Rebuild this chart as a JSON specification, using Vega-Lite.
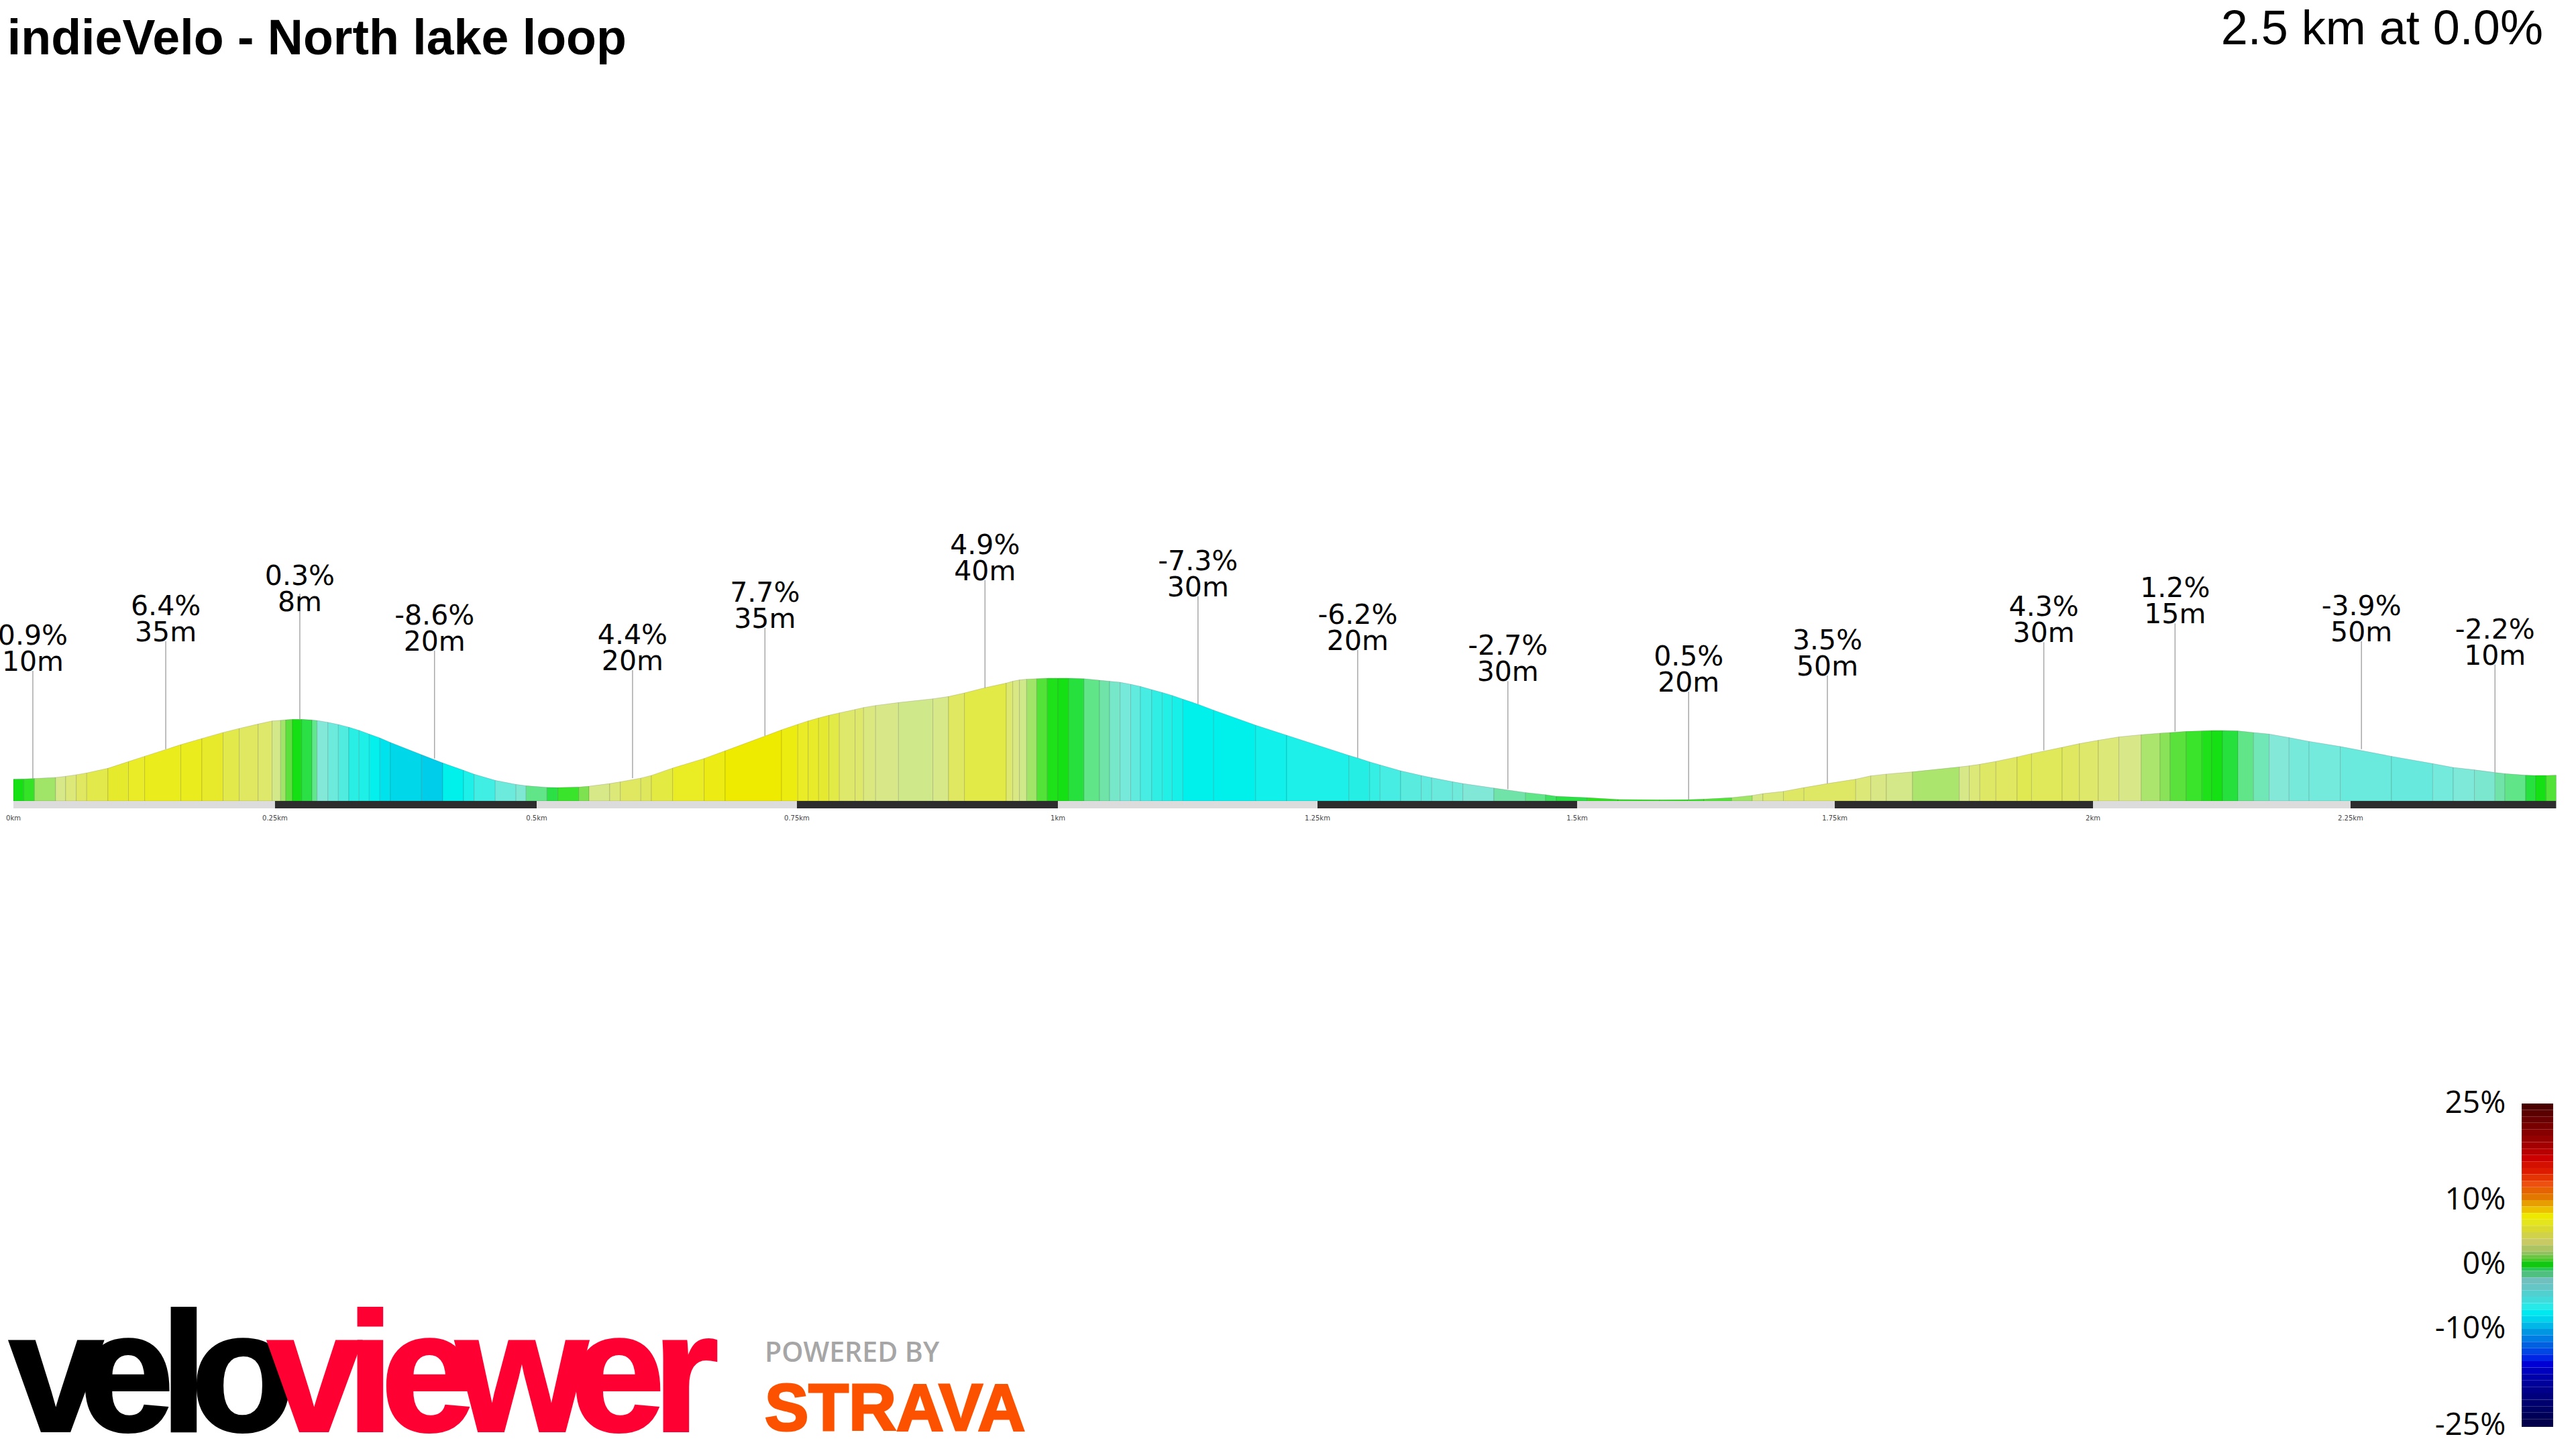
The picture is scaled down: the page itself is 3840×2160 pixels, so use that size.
{
  "$schema": "https://vega.github.io/schema/vega-lite/v6.json",
  "description": "indieVelo North lake loop elevation profile, one filled band per gradient segment.",
  "autosize": {"type": "none"},
  "width": 3840,
  "height": 2160,
  "padding": 0,
  "background": "#ffffff",
  "config": {"view": {"stroke": null}},
  "datasets": {
    "bands": [
      {"band":1,"dist":[0,10.1],"elev":[3.25,3.28],"grade":0},
      {"band":2,"dist":[10.1,20.3],"elev":[3.28,3.35],"grade":0.4},
      {"band":3,"dist":[20.3,40.6],"elev":[3.35,3.51],"grade":1.5},
      {"band":4,"dist":[40.6,50.3],"elev":[3.51,3.68],"grade":2.4},
      {"band":5,"dist":[50.3,60.5],"elev":[3.68,3.91],"grade":3},
      {"band":6,"dist":[60.5,70.6],"elev":[3.91,4.18],"grade":3.5},
      {"band":7,"dist":[70.6,91],"elev":[4.18,4.87],"grade":4.2},
      {"band":8,"dist":[91,110.8],"elev":[4.87,5.87],"grade":5},
      {"band":9,"dist":[110.8,126.4],"elev":[5.87,6.66],"grade":5.8},
      {"band":10,"dist":[126.4,161.2],"elev":[6.66,8.39],"grade":6.3},
      {"band":11,"dist":[161.2,181.5],"elev":[8.39,9.31],"grade":6.2},
      {"band":12,"dist":[181.5,201.9],"elev":[9.31,10.21],"grade":5.2},
      {"band":13,"dist":[201.9,217.4],"elev":[10.21,10.81],"grade":4.2},
      {"band":14,"dist":[217.4,235.6],"elev":[10.81,11.47],"grade":3.5},
      {"band":15,"dist":[235.6,249.1],"elev":[11.47,11.93],"grade":3.3},
      {"band":16,"dist":[249.1,257.3],"elev":[11.93,12.03],"grade":2.2},
      {"band":17,"dist":[257.3,262.3],"elev":[12.03,12.1],"grade":1.5},
      {"band":18,"dist":[262.3,268.7],"elev":[12.1,12.17],"grade":0.9},
      {"band":19,"dist":[268.7,277.6],"elev":[12.17,12.17],"grade":0},
      {"band":20,"dist":[277.6,287.5],"elev":[12.17,12.07],"grade":-0.5},
      {"band":21,"dist":[287.5,292.4],"elev":[12.07,12],"grade":-1.4},
      {"band":22,"dist":[292.4,302.8],"elev":[12,11.73],"grade":-2.8},
      {"band":23,"dist":[302.8,312.9],"elev":[11.73,11.4],"grade":-3.6},
      {"band":24,"dist":[312.9,323],"elev":[11.4,11],"grade":-4.5},
      {"band":25,"dist":[323,332.9],"elev":[11,10.53],"grade":-5.6},
      {"band":26,"dist":[332.9,342.6],"elev":[10.53,9.97],"grade":-6.2},
      {"band":27,"dist":[342.6,352.9],"elev":[9.97,9.4],"grade":-7.2},
      {"band":28,"dist":[352.9,363],"elev":[9.4,8.73],"grade":-7.8},
      {"band":29,"dist":[363,393],"elev":[8.73,6.9],"grade":-8.3},
      {"band":30,"dist":[393,413.4],"elev":[6.9,5.67],"grade":-8.8},
      {"band":31,"dist":[413.4,433.5],"elev":[5.67,4.57],"grade":-7.3},
      {"band":32,"dist":[433.5,443.6],"elev":[4.57,4],"grade":-6.3},
      {"band":33,"dist":[443.6,464],"elev":[4,3.07],"grade":-5},
      {"band":34,"dist":[464,484],"elev":[3.07,2.47],"grade":-3.6},
      {"band":35,"dist":[484,493.7],"elev":[2.47,2.27],"grade":-2.7},
      {"band":36,"dist":[493.7,513.8],"elev":[2.27,2.03],"grade":-1.3},
      {"band":37,"dist":[513.8,524.3],"elev":[2.03,2],"grade":-0.5},
      {"band":38,"dist":[524.3,544.4],"elev":[2,2.07],"grade":0.5},
      {"band":39,"dist":[544.4,554.3],"elev":[2.07,2.2],"grade":1.2},
      {"band":40,"dist":[554.3,574.2],"elev":[2.2,2.59],"grade":2.4},
      {"band":42,"dist":[574.2,584.4],"elev":[2.59,2.85],"grade":3},
      {"band":43,"dist":[584.4,604.2],"elev":[2.85,3.41],"grade":3.5},
      {"band":44,"dist":[604.2,614.4],"elev":[3.41,3.81],"grade":3.6},
      {"band":45,"dist":[614.4,634.8],"elev":[3.81,4.9],"grade":4.5},
      {"band":46,"dist":[634.8,665.2],"elev":[4.9,6.33],"grade":6},
      {"band":47,"dist":[665.2,685.4],"elev":[6.33,7.47],"grade":6.5},
      {"band":48,"dist":[685.4,704.6,723.7,739.7],"elev":[7.47,8.57,9.67,10.6],"grade":7.7},
      {"band":49,"dist":[739.7,755.4],"elev":[10.6,11.43],"grade":6.7},
      {"band":50,"dist":[755.4,765.3],"elev":[11.43,11.93],"grade":5.8},
      {"band":51,"dist":[765.3,775.4],"elev":[11.93,12.37],"grade":5.3},
      {"band":52,"dist":[775.4,785.3],"elev":[12.37,12.77],"grade":4.9},
      {"band":53,"dist":[785.3,795.4],"elev":[12.77,13.13],"grade":4.3},
      {"band":54,"dist":[795.4,810.5],"elev":[13.13,13.63],"grade":3.3},
      {"band":55,"dist":[810.5,818.7],"elev":[13.63,13.93],"grade":3.3},
      {"band":56,"dist":[818.7,830.3],"elev":[13.93,14.23],"grade":2.8},
      {"band":57,"dist":[830.3,852.3],"elev":[14.23,14.67],"grade":2.5},
      {"band":58,"dist":[852.3,885.4],"elev":[14.67,15.23],"grade":2},
      {"band":59,"dist":[885.4,900.5],"elev":[15.23,15.57],"grade":2.4},
      {"band":60,"dist":[900.5,915.8],"elev":[15.57,16.1],"grade":3.5},
      {"band":61,"dist":[915.8,936,956.1],"elev":[16.1,16.9,17.57],"grade":4.3},
      {"band":62,"dist":[956.1,962.3],"elev":[17.57,17.85],"grade":3.2},
      {"band":63,"dist":[962.3,968.8],"elev":[17.85,18.05],"grade":2.7},
      {"band":64,"dist":[968.8,975.7],"elev":[18.05,18.16],"grade":2},
      {"band":65,"dist":[975.7,985.4],"elev":[18.16,18.23],"grade":1.5},
      {"band":66,"dist":[985.4,995.6],"elev":[18.23,18.3],"grade":0.8},
      {"band":67,"dist":[995.6,1005.7],"elev":[18.3,18.3],"grade":0.1},
      {"band":68,"dist":[1005.7,1016.4],"elev":[18.3,18.3],"grade":0},
      {"band":69,"dist":[1016.4,1030.9],"elev":[18.3,18.23],"grade":-0.4},
      {"band":70,"dist":[1030.9,1045.9],"elev":[18.23,18],"grade":-1.3},
      {"band":71,"dist":[1045.9,1055.6],"elev":[18,17.85],"grade":-2},
      {"band":72,"dist":[1055.6,1065.7],"elev":[17.85,17.7],"grade":-2.5},
      {"band":73,"dist":[1065.7,1075.9],"elev":[17.7,17.4],"grade":-3.3},
      {"band":74,"dist":[1075.9,1085.3],"elev":[17.4,17.07],"grade":-4},
      {"band":75,"dist":[1085.3,1096.1],"elev":[17.07,16.6],"grade":-4.8},
      {"band":76,"dist":[1096.1,1106.2],"elev":[16.6,16.17],"grade":-5.4},
      {"band":77,"dist":[1106.2,1115.9],"elev":[16.17,15.73],"grade":-6},
      {"band":78,"dist":[1115.9,1126.2],"elev":[15.73,15.17],"grade":-6.6},
      {"band":79,"dist":[1126.2,1140.6,1155.9],"elev":[15.17,14.43,13.53],"grade":-7.3},
      {"band":80,"dist":[1155.9,1196.2],"elev":[13.53,11.3],"grade":-7.3},
      {"band":81,"dist":[1196.2,1226.1],"elev":[11.3,9.8],"grade":-6.8},
      {"band":82,"dist":[1226.1,1286],"elev":[9.8,6.8],"grade":-6.3},
      {"band":83,"dist":[1286,1295.2,1306],"elev":[6.8,6.37,5.83],"grade":-5.8},
      {"band":84,"dist":[1306,1316.1],"elev":[5.83,5.37],"grade":-5.3},
      {"band":85,"dist":[1316.1,1335.9],"elev":[5.37,4.5],"grade":-4.8},
      {"band":86,"dist":[1335.9,1355.7],"elev":[4.5,3.8],"grade":-4.2},
      {"band":87,"dist":[1355.7,1365.8],"elev":[3.8,3.47],"grade":-4},
      {"band":88,"dist":[1365.8,1385.9],"elev":[3.47,2.87],"grade":-3.7},
      {"band":89,"dist":[1385.9,1395.8],"elev":[2.87,2.6],"grade":-3.5},
      {"band":90,"dist":[1395.8,1425.7],"elev":[2.6,1.92],"grade":-2.9},
      {"band":91,"dist":[1425.7,1456.2],"elev":[1.92,1.26],"grade":-2},
      {"band":92,"dist":[1456.2,1475.5],"elev":[1.26,0.93],"grade":-1.3},
      {"band":93,"dist":[1475.5,1485.7],"elev":[0.93,0.7],"grade":-0.8},
      {"band":94,"dist":[1485.7,1515.7],"elev":[0.7,0.5],"grade":-0.5},
      {"band":95,"dist":[1515.7,1545.2],"elev":[0.5,0.23],"grade":0.3},
      {"band":96,"dist":[1545.2,1585.4],"elev":[0.23,0.17],"grade":0.4},
      {"band":97,"dist":[1585.4,1612.2],"elev":[0.17,0.2],"grade":0.4},
      {"band":98,"dist":[1612.2,1627.9],"elev":[0.2,0.27],"grade":0.5},
      {"band":99,"dist":[1627.9,1654.7],"elev":[0.27,0.5],"grade":0.8},
      {"band":100,"dist":[1654.7,1674.5],"elev":[0.5,0.83],"grade":1.5},
      {"band":101,"dist":[1674.5,1684.7],"elev":[0.83,1.09],"grade":2.4},
      {"band":102,"dist":[1684.7,1704.5],"elev":[1.09,1.43],"grade":3},
      {"band":103,"dist":[1704.5,1724.3],"elev":[1.43,1.99],"grade":3.4},
      {"band":104,"dist":[1724.3,1746.8,1774.1],"elev":[1.99,2.59,3.25],"grade":3.4},
      {"band":105,"dist":[1774.1,1788.6],"elev":[3.25,3.75],"grade":3},
      {"band":106,"dist":[1788.6,1803.6],"elev":[3.75,4.01],"grade":2.6},
      {"band":107,"dist":[1803.6,1828.8],"elev":[4.01,4.34],"grade":2.3},
      {"band":108,"dist":[1828.8,1873.8],"elev":[4.34,5.07],"grade":1.6},
      {"band":109,"dist":[1873.8,1883.4],"elev":[5.07,5.24],"grade":2.4},
      {"band":110,"dist":[1883.4,1893.6],"elev":[5.24,5.47],"grade":3},
      {"band":111,"dist":[1893.6,1909.1],"elev":[5.47,5.9],"grade":3.4},
      {"band":112,"dist":[1909.1,1929.5],"elev":[5.9,6.56],"grade":3.5},
      {"band":113,"dist":[1929.5,1943.4],"elev":[6.56,7.06],"grade":4},
      {"band":114,"dist":[1943.4,1972.9],"elev":[7.06,7.99],"grade":3.7},
      {"band":115,"dist":[1972.9,1989.5],"elev":[7.99,8.55],"grade":3.5},
      {"band":116,"dist":[1989.5,2007.7],"elev":[8.55,9.05],"grade":3.3},
      {"band":117,"dist":[2007.7,2027.5],"elev":[9.05,9.55],"grade":3},
      {"band":118,"dist":[2027.5,2049],"elev":[9.55,9.88],"grade":2.5},
      {"band":119,"dist":[2049,2067.2],"elev":[9.88,10.11],"grade":1.6},
      {"band":120,"dist":[2067.2,2076.8],"elev":[10.11,10.21],"grade":1.3},
      {"band":121,"dist":[2076.8,2092.3],"elev":[10.21,10.37],"grade":0.9},
      {"band":122,"dist":[2092.3,2107.4],"elev":[10.37,10.44],"grade":0.5},
      {"band":123,"dist":[2107.4,2117],"elev":[10.44,10.51],"grade":0.1},
      {"band":124,"dist":[2117,2127.2],"elev":[10.51,10.51],"grade":0},
      {"band":125,"dist":[2127.2,2142.2],"elev":[10.51,10.44],"grade":-0.4},
      {"band":126,"dist":[2142.2,2157.2],"elev":[10.44,10.21],"grade":-1.3},
      {"band":127,"dist":[2157.2,2172.2],"elev":[10.21,9.98],"grade":-2.2},
      {"band":128,"dist":[2172.2,2191.4],"elev":[9.98,9.45],"grade":-2.8},
      {"band":129,"dist":[2191.4,2210.7],"elev":[9.45,8.88],"grade":-3.3},
      {"band":130,"dist":[2210.7,2240.7],"elev":[8.88,8.12],"grade":-3.4},
      {"band":131,"dist":[2240.7,2290],"elev":[8.12,6.66],"grade":-3.7},
      {"band":132,"dist":[2290,2329.7],"elev":[6.66,5.57],"grade":-3.8},
      {"band":133,"dist":[2329.7,2349.5],"elev":[5.57,5],"grade":-3.4},
      {"band":134,"dist":[2349.5,2369.9],"elev":[5,4.64],"grade":-3},
      {"band":135,"dist":[2369.9,2389.7],"elev":[4.64,4.24],"grade":-2.6},
      {"band":136,"dist":[2389.7,2399.3],"elev":[4.24,4.08],"grade":-2},
      {"band":137,"dist":[2399.3,2419.2],"elev":[4.08,3.84],"grade":-1.3},
      {"band":138,"dist":[2419.2,2428.8],"elev":[3.84,3.81],"grade":-0.4},
      {"band":139,"dist":[2428.8,2439],"elev":[3.81,3.81],"grade":0},
      {"band":140,"dist":[2439,2448.6],"elev":[3.81,3.84],"grade":0.8}
    ],
    "callouts": [
      {"dist":18.7,"elev":3.31,"top":19.41,"label_at":19.41,"pct":"0.9%","len":"10m"},
      {"dist":146.7,"elev":7.72,"top":23.82,"label_at":23.82,"pct":"6.4%","len":"35m"},
      {"dist":275.8,"elev":12.16,"top":30.9,"label_at":28.26,"pct":"0.3%","len":"8m"},
      {"dist":405.5,"elev":6.33,"top":22.43,"label_at":22.43,"pct":"-8.6%","len":"20m"},
      {"dist":596.2,"elev":3.41,"top":19.51,"label_at":19.51,"pct":"4.4%","len":"20m"},
      {"dist":723.7,"elev":9.71,"top":25.81,"label_at":25.81,"pct":"7.7%","len":"35m"},
      {"dist":935.6,"elev":16.84,"top":32.94,"label_at":32.94,"pct":"4.9%","len":"40m"},
      {"dist":1140.7,"elev":14.42,"top":30.52,"label_at":30.52,"pct":"-7.3%","len":"30m"},
      {"dist":1294.5,"elev":6.4,"top":22.5,"label_at":22.5,"pct":"-6.2%","len":"20m"},
      {"dist":1439.1,"elev":1.76,"top":17.86,"label_at":17.86,"pct":"-2.7%","len":"30m"},
      {"dist":1613.2,"elev":0.2,"top":16.3,"label_at":16.3,"pct":"0.5%","len":"20m"},
      {"dist":1746.8,"elev":2.59,"top":18.69,"label_at":18.69,"pct":"3.5%","len":"50m"},
      {"dist":1955.2,"elev":7.56,"top":23.66,"label_at":23.66,"pct":"4.3%","len":"30m"},
      {"dist":2081.6,"elev":10.37,"top":26.47,"label_at":26.47,"pct":"1.2%","len":"15m"},
      {"dist":2261.1,"elev":7.72,"top":23.82,"label_at":23.82,"pct":"-3.9%","len":"50m"},
      {"dist":2389.7,"elev":4.24,"top":20.34,"label_at":20.34,"pct":"-2.2%","len":"10m"}
    ],
    "scalebar": [
      {"from":0,"to":251.9,"shade":"light"},
      {"from":251.9,"to":503.9,"shade":"dark"},
      {"from":503.9,"to":754.5,"shade":"light"},
      {"from":754.5,"to":1005.8,"shade":"dark"},
      {"from":1005.8,"to":1255.8,"shade":"light"},
      {"from":1255.8,"to":1505.8,"shade":"dark"},
      {"from":1505.8,"to":1753.9,"shade":"light"},
      {"from":1753.9,"to":2002.6,"shade":"dark"},
      {"from":2002.6,"to":2250.6,"shade":"light"},
      {"from":2250.6,"to":2448.6,"shade":"dark"}
    ],
    "ticks": [
      {"dist":0,"label":"0km"},
      {"dist":251.9,"label":"0.25km"},
      {"dist":503.9,"label":"0.5km"},
      {"dist":754.5,"label":"0.75km"},
      {"dist":1005.8,"label":"1km"},
      {"dist":1255.8,"label":"1.25km"},
      {"dist":1505.8,"label":"1.5km"},
      {"dist":1753.9,"label":"1.75km"},
      {"dist":2002.6,"label":"2km"},
      {"dist":2250.6,"label":"2.25km"}
    ],
    "key": [
      {"left":2415.4,"right":2445.7,"hi":25,"lo":24,"g":24.5},{"left":2415.4,"right":2445.7,"hi":24,"lo":23,"g":23.5},{"left":2415.4,"right":2445.7,"hi":23,"lo":22,"g":22.5},{"left":2415.4,"right":2445.7,"hi":22,"lo":21,"g":21.5},{"left":2415.4,"right":2445.7,"hi":21,"lo":20,"g":20.5},
      {"left":2415.4,"right":2445.7,"hi":20,"lo":19,"g":19.5},{"left":2415.4,"right":2445.7,"hi":19,"lo":18,"g":18.5},{"left":2415.4,"right":2445.7,"hi":18,"lo":17,"g":17.5},{"left":2415.4,"right":2445.7,"hi":17,"lo":16,"g":16.5},{"left":2415.4,"right":2445.7,"hi":16,"lo":15,"g":15.5},
      {"left":2415.4,"right":2445.7,"hi":15,"lo":14,"g":14.5},{"left":2415.4,"right":2445.7,"hi":14,"lo":13,"g":13.5},{"left":2415.4,"right":2445.7,"hi":13,"lo":12,"g":12.5},{"left":2415.4,"right":2445.7,"hi":12,"lo":11,"g":11.5},{"left":2415.4,"right":2445.7,"hi":11,"lo":10,"g":10.5},
      {"left":2415.4,"right":2445.7,"hi":10,"lo":9,"g":9.5},{"left":2415.4,"right":2445.7,"hi":9,"lo":8,"g":8.5},{"left":2415.4,"right":2445.7,"hi":8,"lo":7,"g":7.5},{"left":2415.4,"right":2445.7,"hi":7,"lo":6,"g":6.5},{"left":2415.4,"right":2445.7,"hi":6,"lo":5,"g":5.5},
      {"left":2415.4,"right":2445.7,"hi":5,"lo":4,"g":4.5},{"left":2415.4,"right":2445.7,"hi":4,"lo":3,"g":3.5},{"left":2415.4,"right":2445.7,"hi":3,"lo":2,"g":2.5},{"left":2415.4,"right":2445.7,"hi":2,"lo":1.5,"g":1.8},{"left":2415.4,"right":2445.7,"hi":1.5,"lo":1,"g":1.2},
      {"left":2415.4,"right":2445.7,"hi":1,"lo":0.5,"g":0.8},{"left":2415.4,"right":2445.7,"hi":0.5,"lo":-0.5,"g":0},{"left":2415.4,"right":2445.7,"hi":-0.5,"lo":-1,"g":-0.8},{"left":2415.4,"right":2445.7,"hi":-1,"lo":-2,"g":-1.6},{"left":2415.4,"right":2445.7,"hi":-2,"lo":-3,"g":-2.8},
      {"left":2415.4,"right":2445.7,"hi":-3,"lo":-4,"g":-3.5},{"left":2415.4,"right":2445.7,"hi":-4,"lo":-5,"g":-4.5},{"left":2415.4,"right":2445.7,"hi":-5,"lo":-6,"g":-5.5},{"left":2415.4,"right":2445.7,"hi":-6,"lo":-7,"g":-6.5},{"left":2415.4,"right":2445.7,"hi":-7,"lo":-8,"g":-7.5},
      {"left":2415.4,"right":2445.7,"hi":-8,"lo":-9,"g":-8.5},{"left":2415.4,"right":2445.7,"hi":-9,"lo":-10,"g":-9.5},{"left":2415.4,"right":2445.7,"hi":-10,"lo":-11,"g":-10.5},{"left":2415.4,"right":2445.7,"hi":-11,"lo":-12,"g":-11.5},{"left":2415.4,"right":2445.7,"hi":-12,"lo":-13,"g":-12.5},
      {"left":2415.4,"right":2445.7,"hi":-13,"lo":-14,"g":-13.5},{"left":2415.4,"right":2445.7,"hi":-14,"lo":-15,"g":-14.5},{"left":2415.4,"right":2445.7,"hi":-15,"lo":-16,"g":-15.5},{"left":2415.4,"right":2445.7,"hi":-16,"lo":-17,"g":-16.5},{"left":2415.4,"right":2445.7,"hi":-17,"lo":-18,"g":-17.5},
      {"left":2415.4,"right":2445.7,"hi":-18,"lo":-19,"g":-18.5},{"left":2415.4,"right":2445.7,"hi":-19,"lo":-20,"g":-19.5},{"left":2415.4,"right":2445.7,"hi":-20,"lo":-21,"g":-20.5},{"left":2415.4,"right":2445.7,"hi":-21,"lo":-22,"g":-21.5},{"left":2415.4,"right":2445.7,"hi":-22,"lo":-23,"g":-22.5},
      {"left":2415.4,"right":2445.7,"hi":-23,"lo":-24,"g":-23.5},{"left":2415.4,"right":2445.7,"hi":-24,"lo":-25.2,"g":-24.5}
    ],
    "keylabels": [
      {"dist":2400,"g":25,"label":"25%"},
      {"dist":2400,"g":10,"label":"10%"},
      {"dist":2400,"g":0,"label":"0%"},
      {"dist":2400,"g":-10,"label":"-10%"},
      {"dist":2400,"g":-25,"label":"-25%"}
    ],
    "velo": [
      {"dist":41.3,"elev":-93.9,"ch":"v"},
      {"dist":109.2,"elev":-93.9,"ch":"e"},
      {"dist":164.1,"elev":-93.9,"ch":"l"},
      {"dist":220.9,"elev":-93.9,"ch":"o"}
    ],
    "viewer": [
      {"dist":290,"elev":-93.9,"ch":"v"},
      {"dist":343.7,"elev":-93.9,"ch":"i"},
      {"dist":399.2,"elev":-93.9,"ch":"e"},
      {"dist":489.7,"elev":-93.9,"ch":"w"},
      {"dist":582,"elev":-93.9,"ch":"e"},
      {"dist":647.3,"elev":-93.9,"ch":"r"}
    ]
  },
  "encoding": {
    "x": {"field": "dist", "type": "quantitative", "axis": null, "scale": {"domain": [-12.92, 2467.7], "nice": false, "zero": false}}
  },
  "layer": [
    {
      "data": {"name": "bands"},
      "transform": [{"flatten": ["dist", "elev"]}],
      "mark": {"type": "area", "stroke": "#000000", "strokeOpacity": 0.14, "strokeWidth": 1},
      "encoding": {
        "y": {"field": "elev", "type": "quantitative", "axis": null, "stack": null, "scale": {"domain": [-96.6, 119.4], "nice": false, "zero": false}},
        "y2": {"datum": 0},
        "detail": {"field": "band"},
        "color": {
          "field": "grade", "type": "quantitative", "legend": null,
          "scale": {
            "domain": [-9, -8.8, -8.3, -7.8, -7.3, -6.3, -5.6, -5, -4.5, -3.6, -2.8, -2, -1.3, -0.5, 0, 0.5, 1, 1.5, 2, 2.5, 3, 3.5, 4.3, 5, 6, 6.5, 7.7],
            "range": ["#00caea", "#00cdea", "#00d8ea", "#00e2ec", "#00f0ec", "#1cf0e8", "#28eee4", "#40eee4", "#50ece0", "#6ceadc", "#84e8d8", "#70e4a8", "#60e688", "#2ae044", "#14e014", "#3ae42a", "#60e040", "#a0e468", "#cee88a", "#d8e888", "#dce878", "#dfe860", "#e2ea48", "#e6ea2c", "#eaec24", "#ecec14", "#eeea00"]
          }
        }
      }
    },
    {
      "data": {"name": "callouts"},
      "mark": {"type": "rule", "color": "#a8a8a8", "strokeWidth": 1.5},
      "encoding": {
        "y": {"field": "elev", "type": "quantitative", "axis": null, "scale": {"domain": [-96.6, 119.4], "nice": false, "zero": false}},
        "y2": {"field": "top"}
      }
    },
    {
      "data": {"name": "callouts"},
      "mark": {"type": "text", "font": "DejaVu Sans", "fontSize": 41, "color": "#000000", "align": "center", "baseline": "alphabetic", "dy": -39},
      "encoding": {
        "y": {"field": "label_at", "type": "quantitative", "axis": null, "scale": {"domain": [-96.6, 119.4], "nice": false, "zero": false}},
        "text": {"field": "pct"}
      }
    },
    {
      "data": {"name": "callouts"},
      "mark": {"type": "text", "font": "DejaVu Sans", "fontSize": 41, "color": "#000000", "align": "center", "baseline": "alphabetic"},
      "encoding": {
        "y": {"field": "label_at", "type": "quantitative", "axis": null, "scale": {"domain": [-96.6, 119.4], "nice": false, "zero": false}},
        "text": {"field": "len"}
      }
    },
    {
      "data": {"name": "scalebar"},
      "mark": {"type": "rect"},
      "encoding": {
        "x": {"field": "from", "type": "quantitative", "axis": null},
        "x2": {"field": "to"},
        "y": {"datum": 0, "type": "quantitative", "axis": null, "scale": {"domain": [-96.6, 119.4], "nice": false, "zero": false}},
        "y2": {"datum": -1.1},
        "color": {"field": "shade", "type": "nominal", "legend": null, "scale": {"domain": ["light", "dark"], "range": ["#dcdcdc", "#2d2d2d"]}}
      }
    },
    {
      "data": {"name": "ticks"},
      "mark": {"type": "text", "font": "DejaVu Sans", "fontSize": 10, "color": "#444444", "align": "center", "baseline": "alphabetic"},
      "encoding": {
        "y": {"datum": -2.9, "type": "quantitative", "axis": null, "scale": {"domain": [-96.6, 119.4], "nice": false, "zero": false}},
        "text": {"field": "label"}
      }
    },
    {
      "data": {"name": "key"},
      "mark": {"type": "rect"},
      "encoding": {
        "x": {"field": "left", "type": "quantitative", "axis": null},
        "x2": {"field": "right"},
        "y": {"field": "hi", "type": "quantitative", "axis": null, "scale": {"domain": [-28.65, 196.35], "nice": false, "zero": false}},
        "y2": {"field": "lo"},
        "color": {
          "field": "g", "type": "quantitative", "legend": null,
          "scale": {
            "domain": [-24, -20.8, -17.6, -15, -12.5, -10.4, -9, -7.1, -4.6, -2.8, -1.6, 0, 0.9, 1.8, 3.2, 5.4, 7.3, 9, 10.7, 12.5, 14, 16.5, 19, 21.5, 24],
            "range": ["#000050", "#000078", "#0000a8", "#0000e0", "#0060e0", "#0098e0", "#00c8e8", "#00f0f0", "#50d0d0", "#70c0c0", "#50c080", "#10c810", "#50c830", "#90c060", "#c8c86a", "#d8d830", "#eeee00", "#e8b000", "#e07000", "#ee5010", "#e02000", "#cc0000", "#9c0000", "#780000", "#520000"]
          }
        }
      }
    },
    {
      "data": {"name": "keylabels"},
      "mark": {"type": "text", "font": "Open Sans", "fontSize": 46, "color": "#000000", "align": "right", "baseline": "middle"},
      "encoding": {
        "y": {"field": "g", "type": "quantitative", "axis": null, "scale": {"domain": [-28.65, 196.35], "nice": false, "zero": false}},
        "text": {"field": "label"}
      }
    },
    {
      "data": {"values": [{"dist": -5.9, "elev": 111.3, "label": "indieVelo - North lake loop"}]},
      "mark": {"type": "text", "font": "Liberation Sans", "fontWeight": "bold", "fontSize": 73.5, "color": "#000000", "align": "left", "baseline": "alphabetic"},
      "encoding": {
        "y": {"field": "elev", "type": "quantitative", "axis": null, "scale": {"domain": [-96.6, 119.4], "nice": false, "zero": false}},
        "text": {"field": "label"}
      }
    },
    {
      "data": {"values": [{"dist": 2436, "elev": 112.8, "label": "2.5 km at 0.0%"}]},
      "mark": {"type": "text", "font": "Liberation Sans", "fontSize": 72, "color": "#000000", "align": "right", "baseline": "alphabetic"},
      "encoding": {
        "y": {"field": "elev", "type": "quantitative", "axis": null, "scale": {"domain": [-96.6, 119.4], "nice": false, "zero": false}},
        "text": {"field": "label"}
      }
    },
    {
      "data": {"name": "velo"},
      "mark": {"type": "text", "font": "Liberation Sans", "fontWeight": "bold", "fontSize": 252, "color": "#000000", "stroke": "#000000", "strokeWidth": 4, "align": "center", "baseline": "alphabetic"},
      "encoding": {
        "y": {"field": "elev", "type": "quantitative", "axis": null, "scale": {"domain": [-96.6, 119.4], "nice": false, "zero": false}},
        "text": {"field": "ch"}
      }
    },
    {
      "data": {"name": "viewer"},
      "mark": {"type": "text", "font": "Liberation Sans", "fontWeight": "bold", "fontSize": 252, "color": "#ff0033", "stroke": "#ff0033", "strokeWidth": 4, "align": "center", "baseline": "alphabetic"},
      "encoding": {
        "y": {"field": "elev", "type": "quantitative", "axis": null, "scale": {"domain": [-96.6, 119.4], "nice": false, "zero": false}},
        "text": {"field": "ch"}
      }
    },
    {
      "data": {"values": [{"dist": 723.5, "elev": -83.6, "label": "POWERED BY"}]},
      "mark": {"type": "text", "font": "Open Sans", "fontWeight": 600, "fontSize": 41, "color": "#a6a6a6", "align": "left", "baseline": "alphabetic"},
      "encoding": {
        "y": {"field": "elev", "type": "quantitative", "axis": null, "scale": {"domain": [-96.6, 119.4], "nice": false, "zero": false}},
        "text": {"field": "label"}
      }
    },
    {
      "data": {"values": [{"dist": 723.5, "elev": -93.8, "label": "STRAVA"}]},
      "mark": {"type": "text", "font": "Liberation Sans", "fontWeight": "bold", "fontSize": 98, "color": "#fc5200", "stroke": "#fc5200", "strokeWidth": 3, "align": "left", "baseline": "alphabetic"},
      "encoding": {
        "y": {"field": "elev", "type": "quantitative", "axis": null, "scale": {"domain": [-96.6, 119.4], "nice": false, "zero": false}},
        "text": {"field": "label"}
      }
    }
  ],
  "resolve": {"scale": {"y": "independent", "color": "independent"}}
}
